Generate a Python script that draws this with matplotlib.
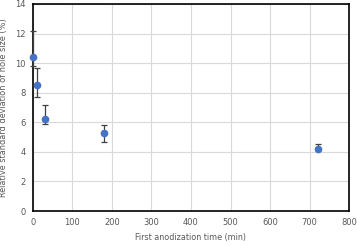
import numpy as np
import matplotlib.pyplot as plt

# data
time_min = [0, 10, 30, 180, 720]
rsd = [10.4, 8.5, 6.2, 5.3, 4.2]
err_lo = [0.6, 0.8, 0.3, 0.6, 0.1]
err_hi = [1.8, 1.2, 1.0, 0.5, 0.35]

fig = plt.figure(figsize=(3.57, 2.46), dpi=100)
ax = fig.add_axes([0.092, 0.142, 0.886, 0.842])

eb = ax.errorbar(time_min, rsd, yerr=[err_lo, err_hi], fmt='o', color='#4472C4',
                 markersize=4.5, ecolor='#404040', elinewidth=0.9, capsize=2.5,
                 capthick=0.9, zorder=3)
for art in eb.get_children():
    art.set_clip_on(False)

ax.set_xlim(0, 800)
ax.set_ylim(0, 14)
ax.set_xticks(np.arange(0, 801, 100))
ax.set_yticks(np.arange(0, 15, 2))
ax.grid(True, color='#d9d9d9', linewidth=0.8)
ax.set_axisbelow(True)
for s in ax.spines.values():
    s.set_color('black')
    s.set_linewidth(1.2)
ax.tick_params(length=0, labelsize=6, colors='#595959', pad=5)
ax.set_xlabel('First anodization time (min)', fontsize=5.8, color='#595959', labelpad=4)
ax.set_ylabel('Relative standard deviation of hole size (%)', fontsize=5.9,
              color='#595959', labelpad=5)

fig.savefig('out.png', dpi=100)
